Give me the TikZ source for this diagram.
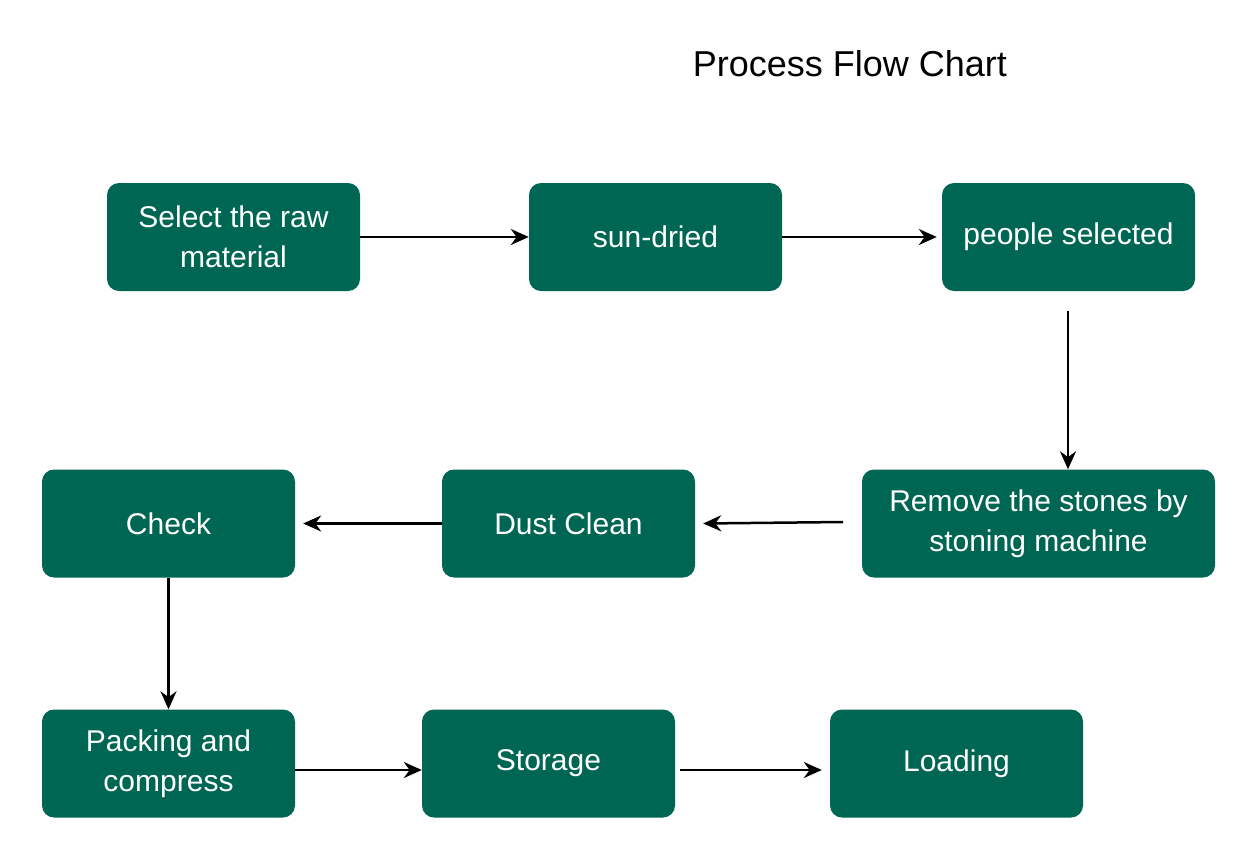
\documentclass[tikz,border=0pt]{standalone}
\usepackage{fontspec}
\setmainfont{Liberation Sans}
\usetikzlibrary{arrows.meta}
\definecolor{boxg}{HTML}{006654}
\begin{document}
\begin{tikzpicture}[x=1pt,y=-1pt,
  box/.style={draw=none,fill=boxg,rounded corners=12pt,text=white,align=center,
    minimum width=253pt,minimum height=108pt,font=\fontsize{30}{40}\selectfont,inner sep=0pt},
  arr/.style={-{Stealth[length=18pt,width=16pt]},line width=2.5pt}]
\useasboundingbox (0,0) rectangle (1256,860);
\node[font=\fontsize{36}{40}\selectfont] (title) at (850,64) {Process Flow Chart};
\node[box] (a) at (233.5,237) {Select the raw\\material};
\node[box] (b) at (655.5,237) {sun-dried};
\node[box] (c) at (1068.5,237) {people selected};
\node[box,minimum width=353pt] (d) at (1038.5,523.5) {Remove the stones by\\stoning machine};
\node[box] (e) at (568.5,523.5) {Dust Clean};
\node[box] (f) at (168.5,523.5) {Check};
\node[box] (g) at (168.5,763.5) {Packing and\\compress};
\node[box] (h) at (548.5,763.5) {Storage};
\node[box] (i) at (956.5,763.5) {Loading};
\coordinate (c0) at (1068,311);
\coordinate (d0) at (843,522);
\coordinate (h0) at (680,770);
\draw[arr] (a.east) -- (b.west);
\draw[arr] (b.east) -- ([xshift=-5pt]c.west);
\draw[arr] (c0) -- (d.north -| c0);
\draw[arr] (d0) -- ([xshift=8pt]e.east);
\draw[arr] (e.west) -- ([xshift=8pt]f.east);
\draw[arr] (f.south) -- (g.north);
\draw[arr] (g.east |- 0,770) -- (h.west |- 0,770);
\draw[arr] (h0) -- ([xshift=-8pt]i.west |- 0,770);
\end{tikzpicture}
\end{document}
